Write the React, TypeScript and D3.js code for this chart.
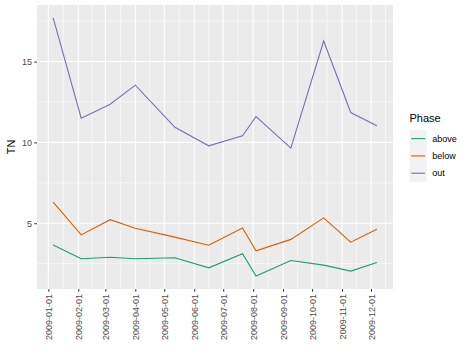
import React, { useEffect, useRef } from 'react';
import * as d3 from 'd3';

const dates = [
  '2009-01-06', '2009-02-04', '2009-03-06', '2009-04-01', '2009-05-12', '2009-06-16',
  '2009-07-21', '2009-08-04', '2009-09-09', '2009-10-13', '2009-11-10', '2009-12-07',
];
const above = [3.66, 2.8, 2.9, 2.8, 2.86, 2.24, 3.11, 1.73, 2.69, 2.41, 2.04, 2.57];
const below = [6.3, 4.28, 5.22, 4.69, 4.14, 3.64, 4.71, 3.29, 4.0, 5.33, 3.83, 4.63];
const out = [17.7, 11.5, 12.36, 13.54, 10.93, 9.79, 10.41, 11.6, 9.65, 16.27, 11.85, 11.03];
const phases = ['above', 'below', 'out'];
const phaseColors = ['#1B9E77', '#D95F02', '#7570B3'];
const monthTicks = [
  '2009-01-01', '2009-02-01', '2009-03-01', '2009-04-01', '2009-05-01', '2009-06-01',
  '2009-07-01', '2009-08-01', '2009-09-01', '2009-10-01', '2009-11-01', '2009-12-01',
];
const yTicks = [5, 10, 15];
const yMinor = [2.5, 7.5, 12.5, 17.5];

export default function App() {
  const svgRef = useRef<SVGSVGElement>(null);

  useEffect(() => {
    if (!svgRef.current) return;
    const root = d3.select(svgRef.current);
    root.selectAll('*').remove();

    const W = 474;
    const H = 354;
    const margin = { top: 5, right: 81, bottom: 65, left: 37 };
    const width = W - margin.left - margin.right;
    const height = H - margin.top - margin.bottom;
    const font = 'Liberation Sans, Arial, sans-serif';

    root.append('rect').attr('width', W).attr('height', H).attr('fill', '#fff');
    const svg = root.append('g').attr('transform', `translate(${margin.left},${margin.top})`);

    const parse = (s: string) => new Date(s + 'T00:00:00Z');
    const xs = dates.map(parse);
    const [x0, x1] = d3.extent(xs) as [Date, Date];
    const xpad = (+x1 - +x0) * 0.05;
    const x = d3.scaleUtc().domain([new Date(+x0 - xpad), new Date(+x1 + xpad)]).range([0, width]);

    const all = [...above, ...below, ...out];
    const ymin = d3.min(all)!;
    const ymax = d3.max(all)!;
    const ypad = (ymax - ymin) * 0.05;
    const y = d3.scaleLinear().domain([ymin - ypad, ymax + ypad]).range([height, 0]);

    // Panel
    svg.append('rect').attr('width', width).attr('height', height).attr('fill', '#EBEBEB');

    const ticks = monthTicks.map(parse);
    const minorX: Date[] = [];
    for (let i = 0; i < ticks.length - 1; i++) {
      minorX.push(new Date((+ticks[i] + +ticks[i + 1]) / 2));
    }
    // minor before first / after last, if inside panel
    minorX.push(new Date(+ticks[0] - (+ticks[1] - +ticks[0]) / 2));
    minorX.push(new Date(+ticks[11] + (+ticks[11] - +ticks[10]) / 2));

    svg.selectAll('.xminor').data(minorX.filter((d) => x(d) > 0 && x(d) < width)).enter()
      .append('line')
      .attr('x1', (d) => x(d)).attr('x2', (d) => x(d))
      .attr('y1', 0).attr('y2', height)
      .attr('stroke', '#fff').attr('stroke-width', 0.55);
    svg.selectAll('.yminor').data(yMinor.filter((d) => y(d) > 0 && y(d) < height)).enter()
      .append('line')
      .attr('x1', 0).attr('x2', width)
      .attr('y1', (d) => y(d)).attr('y2', (d) => y(d))
      .attr('stroke', '#fff').attr('stroke-width', 0.55);
    svg.selectAll('.xmajor').data(ticks).enter()
      .append('line')
      .attr('x1', (d) => x(d)).attr('x2', (d) => x(d))
      .attr('y1', 0).attr('y2', height)
      .attr('stroke', '#fff').attr('stroke-width', 1.1);
    svg.selectAll('.ymajor').data(yTicks).enter()
      .append('line')
      .attr('x1', 0).attr('x2', width)
      .attr('y1', (d) => y(d)).attr('y2', (d) => y(d))
      .attr('stroke', '#fff').attr('stroke-width', 1.1);

    // Lines
    const series = [above, below, out];
    const line = d3.line<number>()
      .x((_, i) => x(xs[i]))
      .y((d) => y(d));
    series.forEach((s, i) => {
      svg.append('path')
        .datum(s)
        .attr('d', line)
        .attr('fill', 'none')
        .attr('stroke', phaseColors[i])
        .attr('stroke-width', 1.1);
    });

    // Axes
    const xAxis = svg.append('g')
      .attr('transform', `translate(0,${height})`)
      .call(d3.axisBottom(x).tickValues(ticks).tickSize(2.75).tickPadding(2.2)
        .tickFormat((d) => d3.utcFormat('%Y-%m-%d')(d as Date)));
    xAxis.select('.domain').remove();
    xAxis.selectAll('line').attr('stroke', '#333').attr('stroke-width', 1);
    xAxis.selectAll('text')
      .attr('transform', 'rotate(-90)')
      .attr('x', -5)
      .attr('y', 0)
      .attr('dy', '0.35em')
      .attr('text-anchor', 'end')
      .attr('fill', '#4D4D4D')
      .style('font-family', font)
      .style('font-size', '9px');

    const yAxis = svg.append('g')
      .call(d3.axisLeft(y).tickValues(yTicks).tickSize(2.75).tickPadding(2.2));
    yAxis.select('.domain').remove();
    yAxis.selectAll('line').attr('stroke', '#333').attr('stroke-width', 1);
    yAxis.selectAll('text')
      .attr('fill', '#4D4D4D')
      .style('font-family', font)
      .style('font-size', '9px');

    root.append('text')
      .attr('transform', `translate(15,${margin.top + height / 2}) rotate(-90)`)
      .attr('text-anchor', 'middle')
      .style('font-family', font)
      .style('font-size', '11px')
      .text('TN');

    // Legend
    const lx = margin.left + width + 16.5;
    const lg = root.append('g').attr('transform', `translate(${lx},112)`);
    lg.append('text')
      .attr('x', 0).attr('y', 10)
      .style('font-family', font)
      .style('font-size', '11px')
      .text('Phase');
    const key = 17.28;
    phases.forEach((p, i) => {
      const ky = 18 + i * key;
      lg.append('rect').attr('x', 0).attr('y', ky).attr('width', key).attr('height', key).attr('fill', '#F2F2F2');
      lg.append('line')
        .attr('x1', 1.7).attr('x2', key - 1.7)
        .attr('y1', ky + key / 2).attr('y2', ky + key / 2)
        .attr('stroke', phaseColors[i]).attr('stroke-width', 1.1);
      lg.append('text')
        .attr('x', key + 5.5).attr('y', ky + key / 2)
        .attr('dy', '0.35em')
        .style('font-family', font)
        .style('font-size', '9px')
        .text(p);
    });
  }, []);

  return (
    <svg
      ref={svgRef}
      width={474}
      height={354}
      style={{ position: 'absolute', left: 0, top: 0, display: 'block' }}
    />
  );
}
